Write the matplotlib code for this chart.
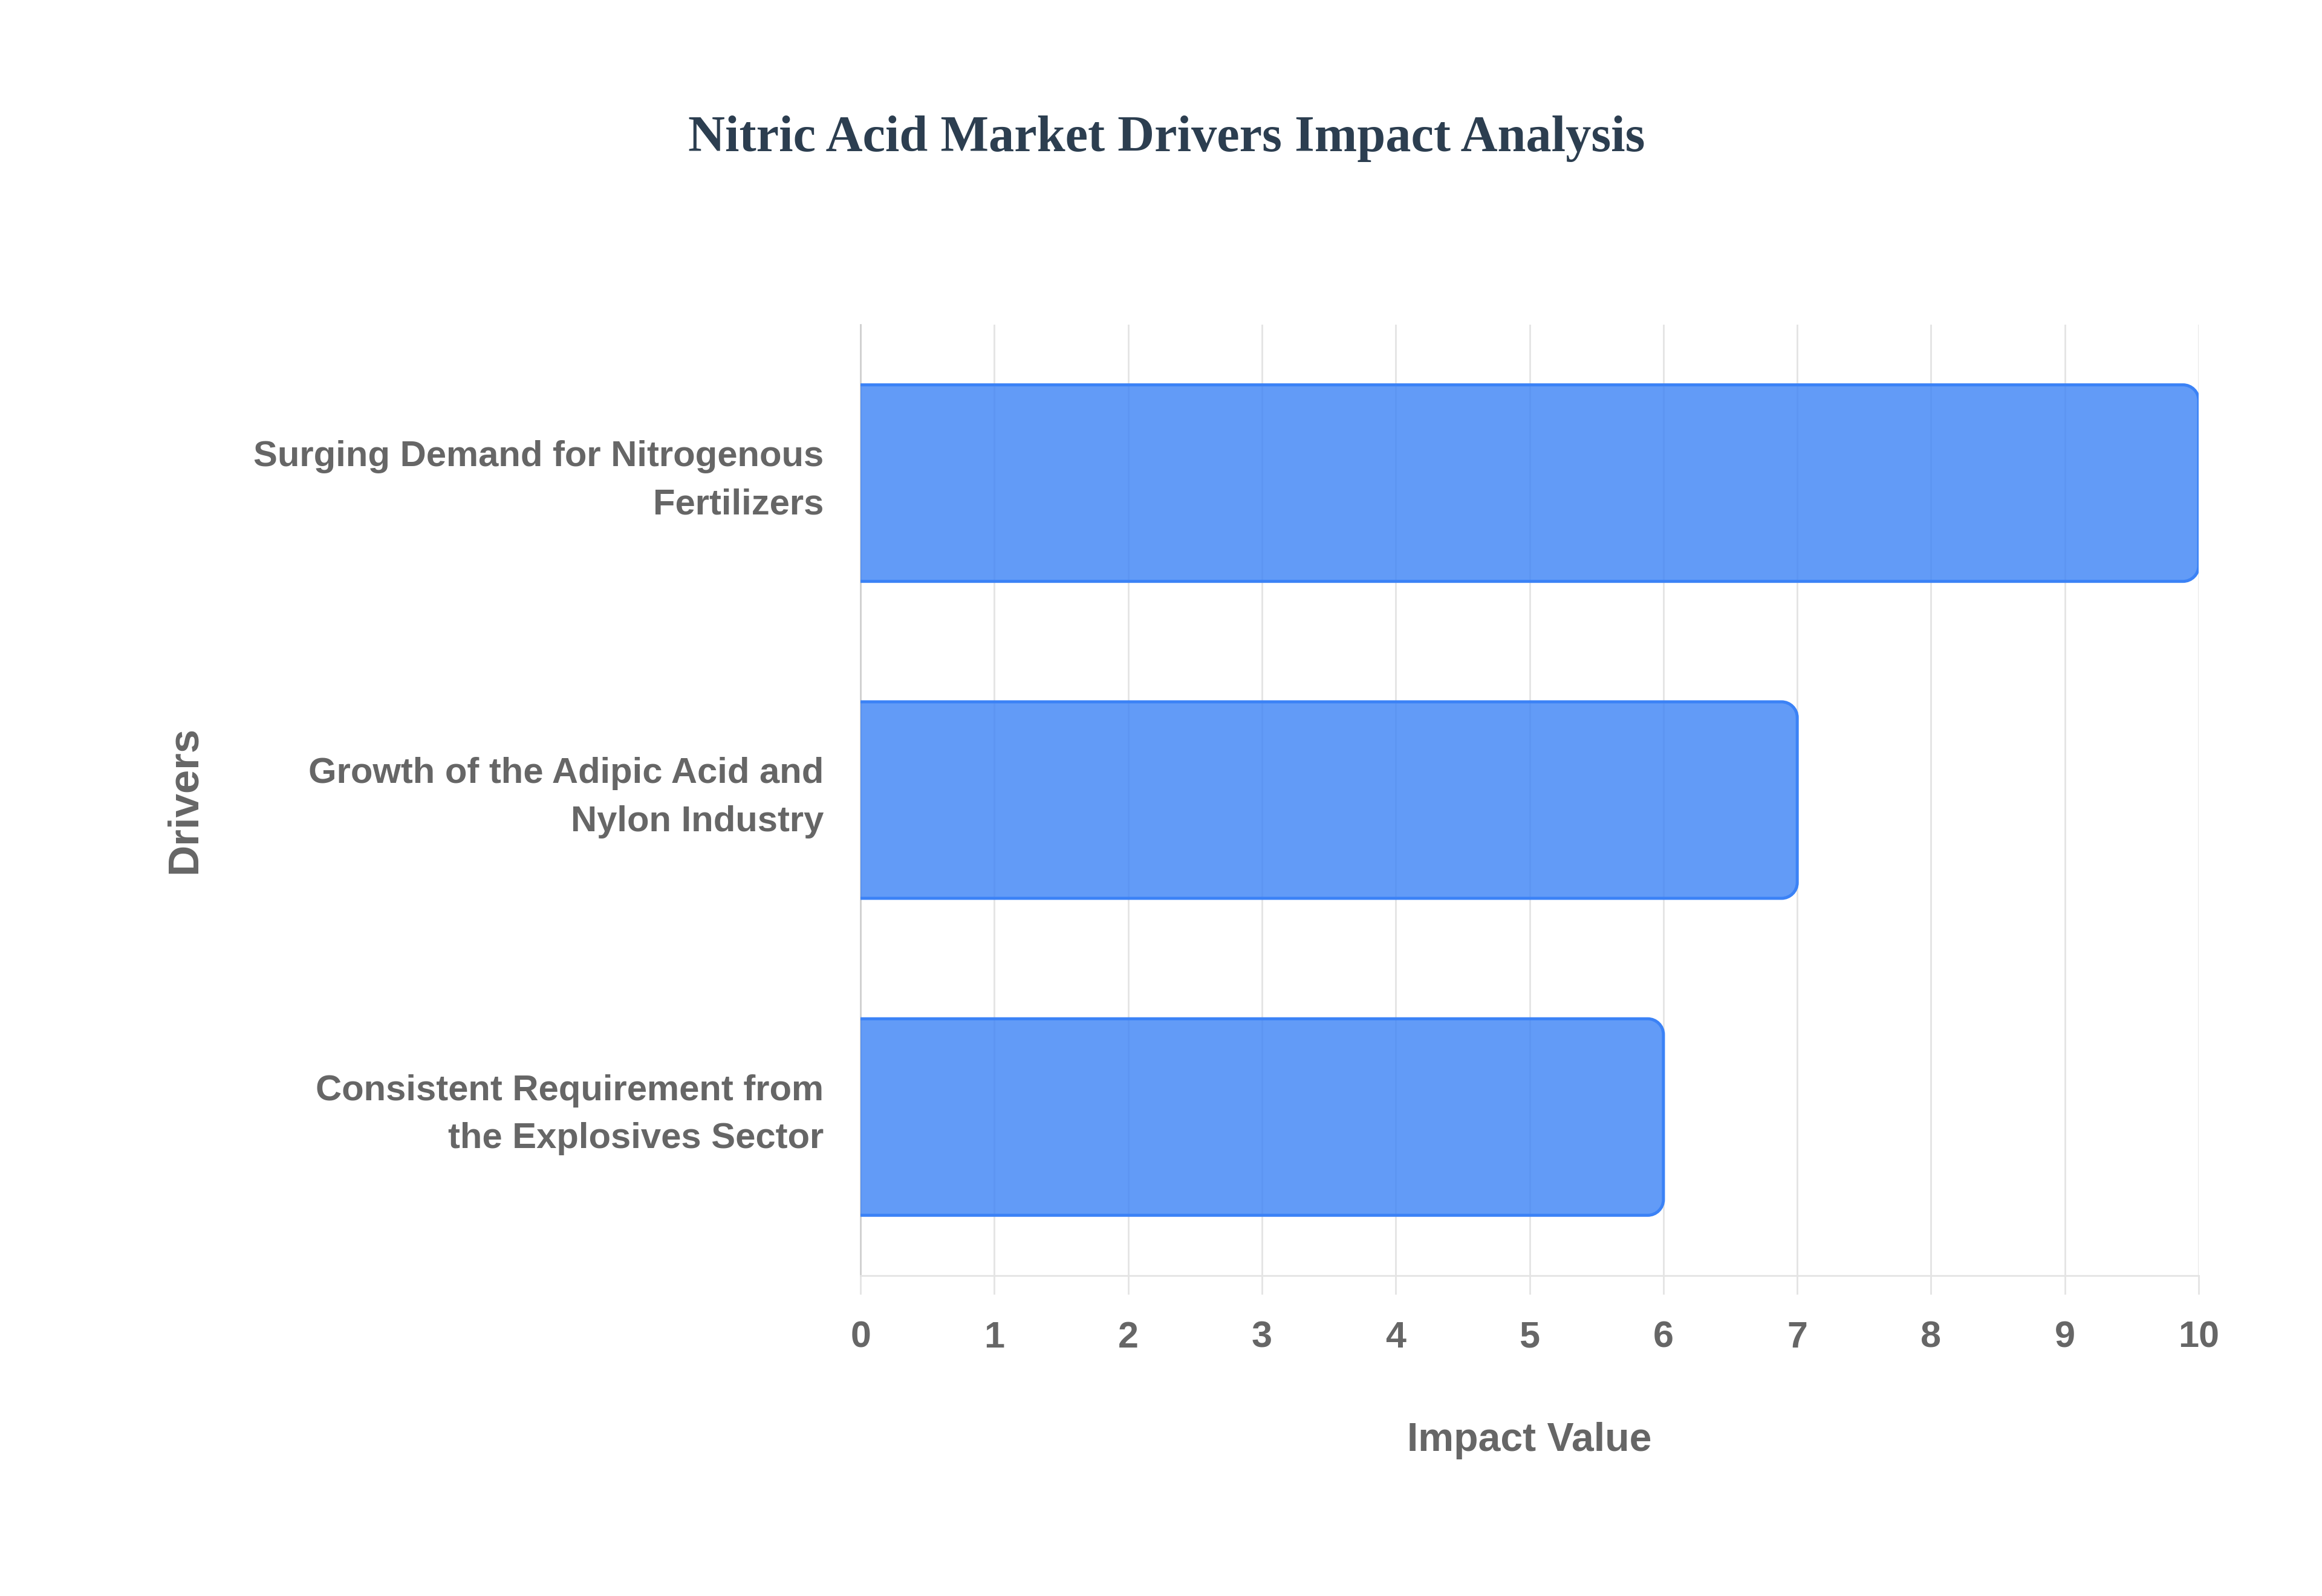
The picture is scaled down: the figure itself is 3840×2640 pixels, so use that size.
import numpy as np
import matplotlib
matplotlib.use("Agg")
import matplotlib.pyplot as plt
import matplotlib.transforms as mtransforms
from matplotlib.path import Path
from matplotlib.patches import PathPatch

drivers = [
    "Surging Demand for Nitrogenous\nFertilizers",
    "Growth of the Adipic Acid and\nNylon Industry",
    "Consistent Requirement from\nthe Explosives Sector",
]
impact = [10, 7, 6]
x_ticks = list(range(0, 11))

TITLE = "Nitric Acid Market Drivers Impact Analysis"
BAR_FACE = (59 / 255, 130 / 255, 246 / 255, 0.8)
BAR_EDGE = "#3b82f6"
TEXT_GREY = "#666666"
GRID_GREY = "#e4e4e4"

plt.rcParams['font.family'] = ['Liberation Sans', 'DejaVu Sans']

fig = plt.figure(figsize=(19.2, 13.2), dpi=200)
ax = fig.add_axes([0.3706, 0.2008, 0.5763, 0.5958])

ax.set_xlim(0, 10)
ax.set_ylim(len(drivers) - 0.5, -0.5)


def right_rounded(x0, yc, w, h, rx, ry):
    # bar path open on the left side, rounded corners on the right
    k = 0.5523
    y0, y1 = yc - h / 2, yc + h / 2
    x1 = x0 + w
    verts = [(x0, y0), (x1 - rx, y0), (x1 - rx + k * rx, y0), (x1, y0 + ry - k * ry), (x1, y0 + ry),
             (x1, y1 - ry), (x1, y1 - ry + k * ry), (x1 - rx + k * rx, y1), (x1 - rx, y1), (x0, y1)]
    codes = [Path.MOVETO, Path.LINETO, Path.CURVE4, Path.CURVE4, Path.CURVE4,
             Path.LINETO, Path.CURVE4, Path.CURVE4, Path.CURVE4, Path.LINETO]
    return Path(verts, codes)


# corner radius in pixels -> data units
fig.canvas.draw()
p0 = ax.transData.transform((0, 0))
p1 = ax.transData.transform((1, 1))
radius_px = 26
rx = radius_px / abs(p1[0] - p0[0])
ry = radius_px / abs(p1[1] - p0[1])

bars = ax.barh(range(len(drivers)), impact, height=0.62, color="none", edgecolor="none")
for b in bars:
    path = right_rounded(b.get_x(), b.get_y() + b.get_height() / 2, b.get_width(), b.get_height(), rx, ry)
    ax.add_patch(PathPatch(path, facecolor=BAR_FACE, edgecolor=BAR_EDGE, linewidth=1.8, zorder=3))

ax.set_yticks(range(len(drivers)))
ax.set_yticklabels(drivers, fontsize=21.5, fontweight="bold", color=TEXT_GREY, linespacing=1.57)
ax.set_xticks(x_ticks)
ax.set_xticklabels([str(t) for t in x_ticks], fontsize=22, fontweight="bold", color=TEXT_GREY)

ax.tick_params(axis="y", length=0, pad=22)
ax.tick_params(axis="x", length=11, width=1.0, color=GRID_GREY, pad=16)

# nudge the multi-line labels up so the caps sit centred on the bars
shift = mtransforms.ScaledTranslation(0, 0.11, fig.dpi_scale_trans)
for lbl in ax.get_yticklabels():
    lbl.set_transform(lbl.get_transform() + shift)

ax.grid(axis="x", color=GRID_GREY, linewidth=1.0, zorder=0)
ax.set_axisbelow(True)

for s in ["top", "right"]:
    ax.spines[s].set_visible(False)
ax.spines["left"].set_color("#cfcfcf")
ax.spines["left"].set_linewidth(1.0)
ax.spines["bottom"].set_color(GRID_GREY)
ax.spines["bottom"].set_linewidth(1.0)

ax.set_xlabel("Impact Value", fontsize=23.8, fontweight="bold", color=TEXT_GREY)
ax.xaxis.set_label_coords(0.5, -0.1736)
ax.xaxis.label.set_va("center")
ax.set_ylabel("Drivers", fontsize=25.5, fontweight="bold", color=TEXT_GREY)
ax.yaxis.set_label_coords(-0.505, 0.5)
ax.yaxis.label.set_va("center")

fig.text(0.5025, 0.913, TITLE, ha="center", va="center", fontsize=30.4, fontweight="bold",
         color="#2c3e50", family=["Liberation Serif", "DejaVu Serif"])

fig.savefig("out.png", dpi=200, facecolor="white")
